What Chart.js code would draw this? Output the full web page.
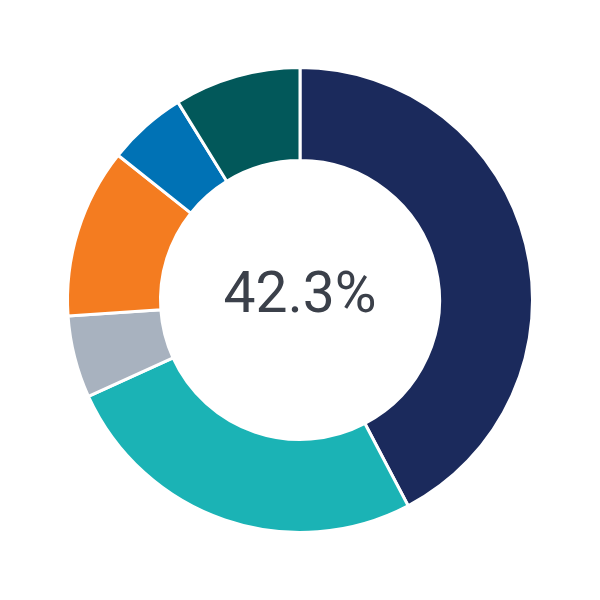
<!DOCTYPE html>
<html>
<head>
<meta charset="utf-8">
<script src="https://cdn.jsdelivr.net/npm/chart.js@4/dist/chart.umd.min.js"></script>
<style>
    html, body { margin: 0; padding: 0; background: #fff; }
    #wrap { width: 600px; height: 600px; }
</style>
</head>
<body>
<div id="wrap"><canvas id="shareChart"></canvas></div>
<script>
// Chart data
const labels = ['Segment A', 'Segment B', 'Segment C', 'Segment D', 'Segment E', 'Segment F'];
const shares = [42.3, 25.9, 5.7, 11.8, 5.5, 8.8];
const colors = ['#1b2a5c', '#1bb3b5', '#a8b2bf', '#f47c20', '#0072b5', '#02585a'];
const centerLabel = '42.3%';

// Draws the big number in the hole
const centerText = {
    id: 'centerText',
    afterDraw(chart) {
        const { ctx, chartArea } = chart;
        const x = (chartArea.left + chartArea.right) / 2;
        const y = (chartArea.top + chartArea.bottom) / 2;
        ctx.save();
        ctx.font = '400 57px Roboto';
        ctx.fillStyle = '#3b404a';
        ctx.textAlign = 'center';
        ctx.textBaseline = 'middle';
        ctx.fillText(centerLabel, x, y - 2);
        ctx.restore();
    }
};

const ctx = document.getElementById('shareChart').getContext('2d');
new Chart(ctx, {
    type: 'doughnut',
    data: {
        labels: labels,
        datasets: [{
            data: shares,
            backgroundColor: colors,
            borderColor: '#fff',
            borderWidth: 3
        }]
    },
    options: {
        responsive: true,
        maintainAspectRatio: false,
        animation: false,
        cutout: '60%',
        layout: { padding: 66 },
        plugins: {
            legend: { display: false },
            tooltip: { enabled: false }
        }
    },
    plugins: [centerText]
});
</script>
</body>
</html>
